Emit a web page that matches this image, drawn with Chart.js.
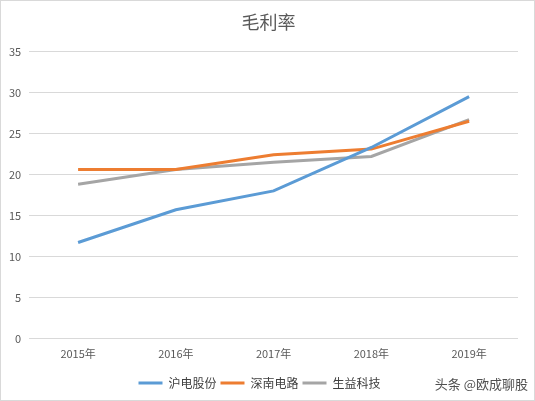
<!DOCTYPE html>
<html><head><meta charset="utf-8">
<script src="https://cdn.jsdelivr.net/npm/chart.js@4/dist/chart.umd.min.js"></script>
<style>
html,body{margin:0;padding:0;background:#fff;}
#wrap{position:relative;width:533px;height:399px;border:1px solid #d9d9d9;}
#wm{position:absolute;right:6px;top:373px;font-family:"Noto Sans CJK SC";font-size:13px;color:#505050;}
</style></head>
<body>
<div id="wrap"><canvas id="c" width="533" height="399"></canvas><div id="wm">头条 @欧成聊股</div></div>
<script>
const categories = ["2015年","2016年","2017年","2018年","2019年"];
const huDian = [11.7, 15.7, 18.0, 23.3, 29.5];
const shenNan = [20.6, 20.6, 22.4, 23.1, 26.5];
const shengYi = [18.8, 20.6, 21.5, 22.2, 26.7];
const seriesNames = ["沪电股份","深南电路","生益科技"];
const colors = ["#5b9bd5","#ed7d31","#a5a5a5"];
const font = '"Noto Sans CJK SC", "Noto Sans", sans-serif';
const shiftTitle = {id: 'shiftTitle', afterLayout(chart){ if (chart.titleBlock) chart.titleBlock.left += 18; }};
new Chart(document.getElementById('c'), {
  type: 'line',
  plugins: [shiftTitle],
  data: {
    labels: categories,
    datasets: [huDian, shenNan, shengYi].map((d,i)=>({
      label: seriesNames[i], data: d, borderColor: colors[i], backgroundColor: colors[i],
      borderWidth: 3, pointRadius: 0, tension: 0, fill: false
    }))
  },
  options: {
    responsive: false, animation: false,
    layout: {padding: {left: 0, right: 16, top: 6, bottom: 1}},
    plugins: {
      title: {display: true, text: '毛利率', color: '#595959', font: {family: font, size: 18, weight: 'normal'}, padding: {top: 4, bottom: 19}},
      legend: {position: 'bottom',
        title: {display: true, text: ' ', font: {size: 9.5, lineHeight: 1.2}, padding: 0},
        labels: {
        color: '#404040', font: {family: font, size: 12}, boxWidth: 24, boxHeight: 3, padding: 4,
        generateLabels: (chart) => chart.data.datasets.map((ds,i)=>({text: ds.label, fillStyle: ds.borderColor, strokeStyle: ds.borderColor, lineWidth: 0, datasetIndex: i, fontColor: '#404040'}))
      }},
      tooltip: {enabled: false}
    },
    scales: {
      x: {offset: true, grid: {display: false}, border: {display: false},
          ticks: {color: '#595959', font: {family: font, size: 11}, padding: 1}},
      y: {min: 0, max: 35, ticks: {stepSize: 5, color: '#595959', font: {family: font, size: 11}, padding: 8},
          grid: {color: '#d9d9d9', drawTicks: false}, border: {display: false}}
    }
  }
});
</script>
</body></html>
